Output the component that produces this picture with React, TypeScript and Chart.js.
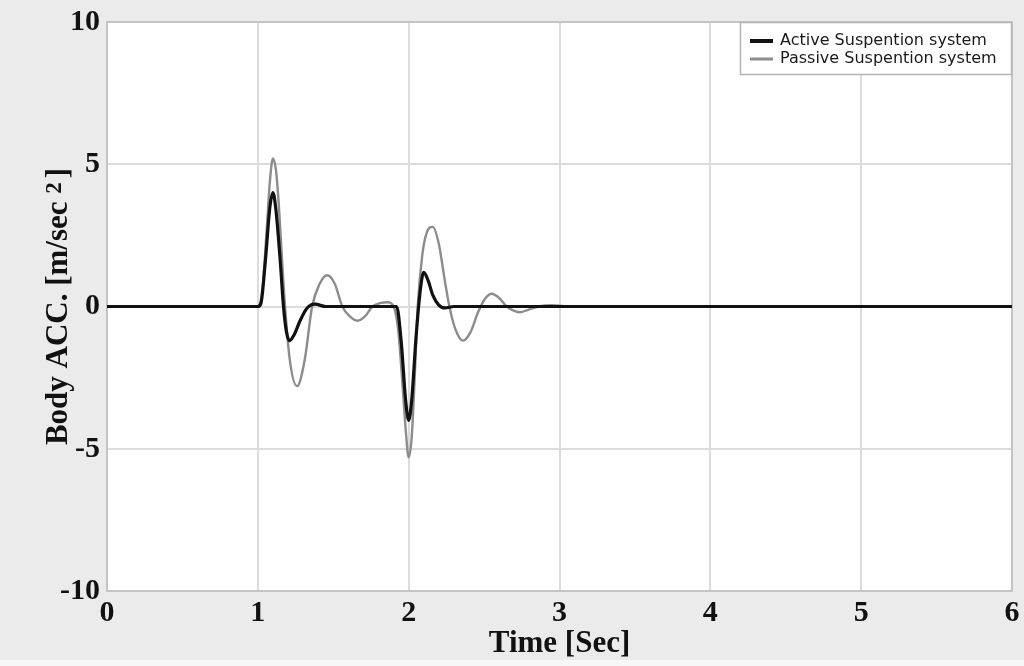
import React, { useEffect, useRef } from 'react';
import { Chart, registerables } from 'chart.js';

Chart.register(...registerables);

// ---- Data ----
const seriesLabels = ['Active Suspention system', 'Passive Suspention system'];

const activeTime = [0, 1.0, 1.02, 1.05, 1.08, 1.10, 1.12, 1.15, 1.17, 1.19, 1.21, 1.24, 1.28, 1.32, 1.35, 1.38, 1.45, 1.92, 1.95, 1.98, 2.0, 2.02, 2.05, 2.08, 2.10, 2.13, 2.16, 2.20, 2.24, 2.30, 6];
const activeValues = [0, 0, 0.1, 1.6, 3.5, 4.0, 3.4, 1.5, 0.0, -0.9, -1.2, -1.0, -0.5, -0.1, 0.05, 0.08, 0, 0, -1.2, -3.3, -4.0, -3.3, -1.0, 0.7, 1.2, 0.9, 0.4, 0.05, -0.05, 0, 0];

const passiveTime = [0, 1.0, 1.03, 1.06, 1.08, 1.10, 1.12, 1.14, 1.17, 1.21, 1.26, 1.31, 1.36, 1.41, 1.46, 1.51, 1.56, 1.61, 1.66, 1.71, 1.76, 1.81, 1.86, 1.90, 1.93, 1.96, 1.98, 2.0, 2.02, 2.04, 2.06, 2.09, 2.12, 2.16, 2.20, 2.24, 2.27, 2.31, 2.36, 2.41, 2.46, 2.51, 2.55, 2.60, 2.65, 2.70, 2.74, 2.80, 2.86, 2.95, 3.05, 6];
const passiveValues = [0, 0, 0.6, 2.8, 4.4, 5.2, 4.8, 3.5, 0.8, -1.8, -2.8, -1.9, 0.0, 0.8, 1.1, 0.8, 0.0, -0.35, -0.5, -0.35, 0.0, 0.12, 0.15, 0.0, -0.8, -2.8, -4.3, -5.3, -4.6, -2.5, 0.0, 1.8, 2.6, 2.8, 2.2, 0.9, 0.0, -0.8, -1.2, -0.9, -0.2, 0.3, 0.45, 0.3, 0.0, -0.15, -0.2, -0.1, 0.0, 0.05, 0, 0];

const xMin = 0;
const xMax = 6;
const xStep = 1;
const yMin = -10;
const yMax = 10;
const yStep = 5;

const xTitle = 'Time [Sec]';
const yTitleMain = 'Body ACC. [m/sec';
const yTitleSup = '2';
const yTitleEnd = ']';

const serif = '"Liberation Serif", "Times New Roman", serif';

const bgPlugin = {
  id: 'plotBg',
  beforeDraw(chart: any) {
    const { ctx, chartArea } = chart;
    ctx.save();
    ctx.fillStyle = '#ffffff';
    ctx.fillRect(chartArea.left, chartArea.top, chartArea.right - chartArea.left, chartArea.bottom - chartArea.top);
    ctx.restore();
  },
  beforeDatasetsDraw(chart: any) {
    const { ctx, chartArea } = chart;
    ctx.save();
    ctx.strokeStyle = '#c4c4c4';
    ctx.lineWidth = 2;
    ctx.strokeRect(chartArea.left, chartArea.top, chartArea.right - chartArea.left, chartArea.bottom - chartArea.top);
    ctx.restore();
  },
};

const yTitlePlugin = {
  id: 'yTitleSup',
  afterDraw(chart: any) {
    const { ctx, chartArea } = chart;
    const cy = (chartArea.top + chartArea.bottom) / 2;
    const mainFont = `bold 31px ${serif}`;
    const supFont = `bold 23px ${serif}`;
    ctx.save();
    ctx.font = mainFont;
    const w1 = ctx.measureText(yTitleMain + ' ').width;
    const w3 = ctx.measureText(yTitleEnd).width;
    ctx.font = supFont;
    const w2 = ctx.measureText(yTitleSup).width;
    const total = w1 + w2 + w3 + 4;
    ctx.translate(67, cy);
    ctx.rotate(-Math.PI / 2);
    ctx.fillStyle = '#111';
    ctx.textBaseline = 'alphabetic';
    ctx.textAlign = 'left';
    let u = -total / 2;
    ctx.font = mainFont;
    ctx.fillText(yTitleMain + ' ', u, 0);
    u += w1;
    ctx.font = supFont;
    ctx.fillText(yTitleSup, u, -6);
    u += w2 + 4;
    ctx.font = mainFont;
    ctx.fillText(yTitleEnd, u, 0);
    ctx.restore();
  },
};

const legendPlugin = {
  id: 'cornerLegend',
  afterDraw(chart: any) {
    const { ctx, chartArea } = chart;
    const w = 272;
    const h = 53;
    const x0 = chartArea.right - w;
    const y0 = chartArea.top;
    ctx.save();
    ctx.fillStyle = '#ffffff';
    ctx.fillRect(x0, y0, w, h);
    ctx.strokeStyle = '#b4b4b4';
    ctx.lineWidth = 1.5;
    ctx.strokeRect(x0 + 0.5, y0 + 0.5, w - 1, h - 1);
    chart.data.datasets.forEach((ds: any, i: number) => {
      const y = y0 + 19 + i * 18;
      ctx.strokeStyle = ds.borderColor;
      ctx.lineWidth = i === 0 ? 4 : 3;
      ctx.beginPath();
      ctx.moveTo(x0 + 10, y);
      ctx.lineTo(x0 + 33, y);
      ctx.stroke();
      ctx.fillStyle = '#1a1a1a';
      ctx.font = '16px "DejaVu Sans", sans-serif';
      ctx.textBaseline = 'middle';
      ctx.textAlign = 'left';
      ctx.fillText(ds.label, x0 + 40, y);
    });
    ctx.restore();
  },
};

export default function App() {
  const canvasRef = useRef<HTMLCanvasElement | null>(null);

  useEffect(() => {
    document.body.style.margin = '0';
    document.body.style.background = '#f7f7f7';
    const canvas = canvasRef.current;
    if (!canvas) return;

    const activeData = activeTime.map((t, i) => ({ x: t, y: activeValues[i] }));
    const passiveData = passiveTime.map((t, i) => ({ x: t, y: passiveValues[i] }));

    const chart = new Chart(canvas, {
      type: 'line',
      data: {
        datasets: [
          {
            label: seriesLabels[0],
            data: activeData,
            borderColor: '#111111',
            borderWidth: 3.2,
            pointRadius: 0,
            cubicInterpolationMode: 'monotone',
            fill: false,
          },
          {
            label: seriesLabels[1],
            data: passiveData,
            borderColor: '#8c8c8c',
            borderWidth: 2.4,
            pointRadius: 0,
            cubicInterpolationMode: 'monotone',
            fill: false,
          },
        ],
      },
      options: {
        responsive: false,
        animation: false,
        layout: { padding: { top: 22, right: 12, left: 0, bottom: 0 } },
        plugins: {
          legend: { display: false },
          tooltip: { enabled: false },
        },
        scales: {
          x: {
            type: 'linear',
            min: xMin,
            max: xMax,
            ticks: {
              stepSize: xStep,
              padding: 4,
              color: '#111',
              font: { family: serif, size: 30, weight: 'bold' },
            },
            grid: { color: '#dcdcdc', lineWidth: 2, drawTicks: false },
            border: { display: false },
            title: {
              display: true,
              text: xTitle,
              color: '#111',
              font: { family: serif, size: 31, weight: 'bold', lineHeight: 1 },
              padding: { top: 0, bottom: 1 },
            },
            afterFit(scale: any) {
              scale.height = 69;
            },
          },
          y: {
            type: 'linear',
            min: yMin,
            max: yMax,
            ticks: {
              stepSize: yStep,
              padding: 7,
              color: '#111',
              font: { family: serif, size: 30, weight: 'bold', lineHeight: 1 },
            },
            grid: { color: '#dcdcdc', lineWidth: 2, drawTicks: false },
            border: { display: false },
            afterFit(scale: any) {
              scale.width = 107;
            },
          },
        },
      },
      plugins: [bgPlugin, yTitlePlugin, legendPlugin],
    } as any);

    return () => {
      chart.destroy();
    };
  }, []);

  return (
    <div style={{ width: 1024, height: 660, background: '#ebebeb' }}>
      <canvas ref={canvasRef} width={1024} height={660} style={{ display: 'block' }} />
    </div>
  );
}
